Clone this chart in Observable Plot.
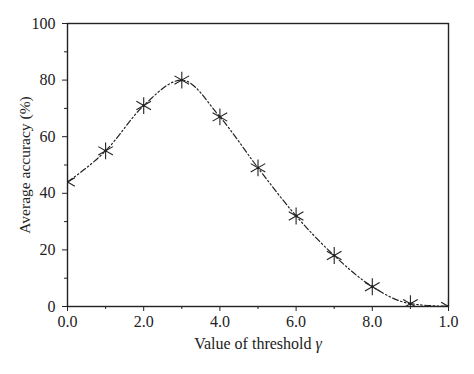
<!DOCTYPE html>
<html>
<head>
<meta charset="utf-8">
<script src="https://cdn.jsdelivr.net/npm/d3@7"></script>
<script src="https://cdn.jsdelivr.net/npm/@observablehq/plot@0.6"></script>
<style>
  html, body { margin: 0; padding: 0; background: #fff; }
  #chart svg { display: block; }
</style>
</head>
<body>
<div id="chart"></div>
<script>
const thresholds = [0, 1, 2, 3, 4, 5, 6, 7, 8, 9, 10];
const accuracy = [44, 55, 71, 80, 67, 49, 32, 18, 7, 1, 0];
const xMajorTicks = [0, 2, 4, 6, 8, 10];
const xTickLabels = ["0.0", "2.0", "4.0", "6.0", "8.0", "1.0"];
const xMinorTicks = [1, 3, 5, 7, 9];
const yMajorTicks = [0, 20, 40, 60, 80, 100];
const yMinorTicks = [10, 30, 50, 70, 90];

const data = thresholds.map((t, i) => ({t, a: accuracy[i]}));
const ink = "#222";

const chart = Plot.plot({
  width: 474,
  height: 374,
  marginLeft: 67,
  marginRight: 26,
  marginTop: 23,
  marginBottom: 68,
  style: {fontFamily: "'Liberation Serif', 'DejaVu Serif', serif", fontSize: "16px", color: ink, background: "#fff"},
  x: {domain: [0, 10]},
  y: {domain: [0, 100]},
  marks: [
    Plot.line(data, {x: "t", y: "a", curve: "monotone-x", stroke: ink, strokeWidth: 1.2, strokeDasharray: "6,2.5,1.5,2.5,1.5,2.5"}),
    Plot.dot(data, {x: "t", y: "a", symbol: "asterisk", r: 8, stroke: ink, strokeWidth: 1.1, clip: "frame"}),
    Plot.dot(data, {x: "t", y: "a", r: 1.4, fill: ink, clip: "frame"}),
    Plot.axisX({ticks: xMajorTicks, tickSize: 5, tickPadding: 4, tickFormat: (d, i) => xTickLabels[i], label: null, stroke: ink, fontSize: 16}),
    Plot.axisX({ticks: xMinorTicks, tickSize: 3, text: null, label: null, stroke: ink}),
    Plot.axisY({ticks: yMajorTicks, tickSize: 5, tickPadding: 7, label: null, stroke: ink, fontSize: 16}),
    Plot.axisY({ticks: yMinorTicks, tickSize: 3, text: null, label: null, stroke: ink}),
    Plot.frame({stroke: ink, strokeWidth: 1.4}),
    Plot.text(["Value of threshold γ"], {frameAnchor: "bottom", dy: 42, fontSize: 16, fill: ink, text: d => d, className: "xlab"}),
    Plot.text(["Average accuracy (%)"], {frameAnchor: "left", textAnchor: "middle", dx: -42, rotate: -90, fontSize: 15.5, fill: ink, text: d => d})
  ]
});
document.getElementById("chart").appendChild(chart);

// italicize the gamma in the x label
const xl = chart.querySelector(".xlab text");
if (xl) {
  const txt = xl.textContent;
  xl.textContent = "";
  const a = document.createElementNS("http://www.w3.org/2000/svg", "tspan");
  a.textContent = txt.slice(0, -1);
  const b = document.createElementNS("http://www.w3.org/2000/svg", "tspan");
  b.textContent = txt.slice(-1);
  b.setAttribute("font-style", "italic");
  xl.appendChild(a); xl.appendChild(b);
}
</script>
</body>
</html>
